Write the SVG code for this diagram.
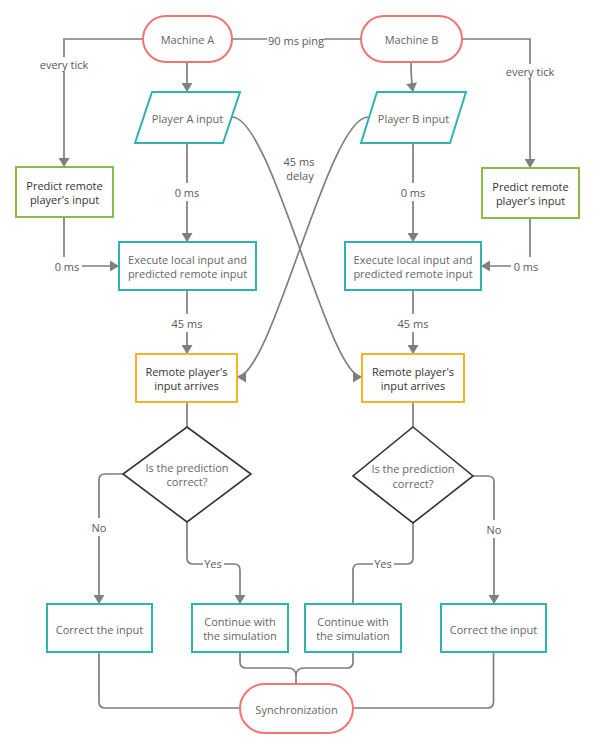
<svg xmlns="http://www.w3.org/2000/svg" width="594" height="750" viewBox="0 0 594 750">
<style>
  text { font-family: "Open Sans", "Noto Sans", "Liberation Sans", sans-serif; font-size: 11px; text-anchor: middle; dominant-baseline: central; }
  .t { fill: #666666; }
  .td { fill: #333333; }
  .lbl { fill: #595959; }
  .pill { fill: #ffffff; stroke: #f07470; stroke-width: 2; }
  .teal { fill: #ffffff; stroke: #2fb3b0; stroke-width: 2; }
  .green { fill: #ffffff; stroke: #8cbb45; stroke-width: 2; }
  .orange { fill: #ffffff; stroke: #f5b325; stroke-width: 2; }
  .dia { fill: #ffffff; stroke: #333333; stroke-width: 1.6; }
  .e { fill: none; stroke: #7f7f7f; stroke-width: 1.7; }
  .a { marker-end: url(#arr); }
  .bg { fill: #ffffff; }
</style>
<defs>
  <marker id="arr" markerUnits="userSpaceOnUse" viewBox="0 0 9 11" markerWidth="9" markerHeight="11" refX="9" refY="5.5" orient="auto">
    <path d="M0,0 L9,5.5 L0,11 z" fill="#7f7f7f"/>
  </marker>
</defs>
<rect width="594" height="750" fill="#ffffff"/>

<g id="connectors">
  <path class="e" d="M232,39 H361"/>
  <path class="e a" d="M143,39 H64 V167"/>
  <path class="e a" d="M462,39 H530 V168"/>
  <path class="e a" d="M187,62 V92"/>
  <path class="e a" d="M411,62 Q411,80 413,92"/>
  <path class="e a" d="M187,143 V242"/>
  <path class="e a" d="M413,143 V242"/>
  <path class="e a" d="M64,217 V266 H119"/>
  <path class="e a" d="M530,218 V266 H481"/>
  <path class="e a" d="M187,290 V354"/>
  <path class="e a" d="M413,290 V354"/>
  <path class="e a" d="M232,117 C272,117 328,377 362,377"/>
  <path class="e a" d="M368,117 C328,117 272,377 237,377"/>
  <path class="e" d="M187,402 V427"/>
  <path class="e" d="M413,402 V427"/>
  <path class="e a" d="M123,474 H105 Q99,474 99,480 V604"/>
  <path class="e a" d="M187,522 V558 Q187,564 193,564 H234 Q240,564 240,570 V604"/>
  <path class="e a" d="M473,476 H488 Q494,476 494,482 V604"/>
  <path class="e" d="M413,523 V558 Q413,564 407,564 H359 Q353,564 353,570 V604"/>
  <path class="e" d="M240,652 V662 Q240,668 246,668 H288 Q296,668 296,676 V684"/>
  <path class="e" d="M353,652 V662 Q353,668 347,668 H304 Q296,668 296,676"/>
  <path class="e" d="M99,652 V702 Q99,708 105,708 H240"/>
  <path class="e" d="M493.5,652 V702 Q493.5,708 487.5,708 H353"/>

  <rect class="bg" x="267" y="32" width="57" height="16"/>
  <text class="lbl" x="296" y="40">90 ms ping</text>
  <rect class="bg" x="38" y="57" width="52" height="15"/>
  <text class="lbl" x="64" y="64">every tick</text>
  <rect class="bg" x="504" y="64" width="52" height="15"/>
  <text class="lbl" x="530" y="71">every tick</text>
  <rect class="bg" x="173" y="183" width="28" height="18"/>
  <text class="lbl" x="187" y="192">0 ms</text>
  <rect class="bg" x="399" y="183" width="28" height="18"/>
  <text class="lbl" x="413" y="192">0 ms</text>
  <rect class="bg" x="52" y="257" width="30" height="18"/>
  <text class="lbl" x="67" y="266">0 ms</text>
  <rect class="bg" x="511" y="257" width="30" height="18"/>
  <text class="lbl" x="526" y="266">0 ms</text>
  <rect class="bg" x="170" y="314" width="34" height="18"/>
  <text class="lbl" x="187" y="323">45 ms</text>
  <rect class="bg" x="396" y="314" width="34" height="18"/>
  <text class="lbl" x="413" y="323">45 ms</text>
  <text class="lbl" x="299" y="161">45 ms</text>
  <text class="lbl" x="300" y="175">delay</text>
  <rect class="bg" x="91" y="518" width="16" height="18"/>
  <text class="lbl" x="99" y="527">No</text>
  <rect class="bg" x="486" y="520" width="16" height="18"/>
  <text class="lbl" x="494" y="529">No</text>
  <rect class="bg" x="203" y="556" width="21" height="16"/>
  <text class="lbl" x="213" y="563">Yes</text>
  <rect class="bg" x="373" y="556" width="21" height="16"/>
  <text class="lbl" x="383" y="563">Yes</text>
</g>

<g id="machineA">
  <rect class="pill" x="143" y="16" width="89" height="46" rx="23"/>
  <text class="t" x="187.5" y="39">Machine A</text>
</g>
<g id="machineB">
  <rect class="pill" x="361" y="16" width="101" height="46" rx="23"/>
  <text class="t" x="411.5" y="39">Machine B</text>
</g>
<g id="playerAInput">
  <polygon class="teal" points="152,92 240,92 223,143 135,143"/>
  <text class="t" x="187.5" y="118">Player A input</text>
</g>
<g id="playerBInput">
  <polygon class="teal" points="377,92 466,92 450,143 361,143"/>
  <text class="t" x="413.5" y="118">Player B input</text>
</g>
<g id="predictA">
  <rect class="green" x="16" y="167" width="97" height="50"/>
  <text class="td" x="64.5" y="185">Predict remote</text>
  <text class="td" x="64.5" y="199.5">player's input</text>
</g>
<g id="predictB">
  <rect class="green" x="482" y="168" width="97" height="50"/>
  <text class="td" x="530.5" y="186">Predict remote</text>
  <text class="td" x="530.5" y="200.5">player's input</text>
</g>
<g id="executeA">
  <rect class="teal" x="119" y="242" width="137" height="48"/>
  <text class="t" x="187.5" y="259">Execute local input and</text>
  <text class="t" x="187.5" y="273.5">predicted remote input</text>
</g>
<g id="executeB">
  <rect class="teal" x="345" y="242" width="136" height="48"/>
  <text class="t" x="413" y="259">Execute local input and</text>
  <text class="t" x="413" y="273.5">predicted remote input</text>
</g>
<g id="arrivesA">
  <rect class="orange" x="136" y="354" width="101" height="48"/>
  <text class="td" x="186.5" y="371">Remote player's</text>
  <text class="td" x="186.5" y="385.5">input arrives</text>
</g>
<g id="arrivesB">
  <rect class="orange" x="362" y="354" width="102" height="48"/>
  <text class="td" x="413" y="371">Remote player's</text>
  <text class="td" x="413" y="385.5">input arrives</text>
</g>
<g id="decisionA">
  <polygon class="dia" points="187,427 251,474 187,522 123,474"/>
  <text class="t" x="187" y="467">Is the prediction</text>
  <text class="t" x="187" y="481.5">correct?</text>
</g>
<g id="decisionB">
  <polygon class="dia" points="413,427 473,476 413,523 353,476"/>
  <text class="t" x="413" y="468.5">Is the prediction</text>
  <text class="t" x="413" y="483">correct?</text>
</g>
<g id="correctA">
  <rect class="teal" x="47" y="604" width="105" height="48"/>
  <text class="t" x="99.5" y="629">Correct the input</text>
</g>
<g id="continueA">
  <rect class="teal" x="192" y="604" width="96" height="48"/>
  <text class="t" x="240" y="621">Continue with</text>
  <text class="t" x="240" y="635.5">the simulation</text>
</g>
<g id="continueB">
  <rect class="teal" x="305" y="604" width="96" height="48"/>
  <text class="t" x="353" y="621">Continue with</text>
  <text class="t" x="353" y="635.5">the simulation</text>
</g>
<g id="correctB">
  <rect class="teal" x="441" y="604" width="105" height="48"/>
  <text class="t" x="493.5" y="629">Correct the input</text>
</g>
<g id="synchronization">
  <rect class="pill" x="240" y="684" width="113" height="49" rx="24.5"/>
  <text class="t" x="296.5" y="709">Synchronization</text>
</g>
</svg>
